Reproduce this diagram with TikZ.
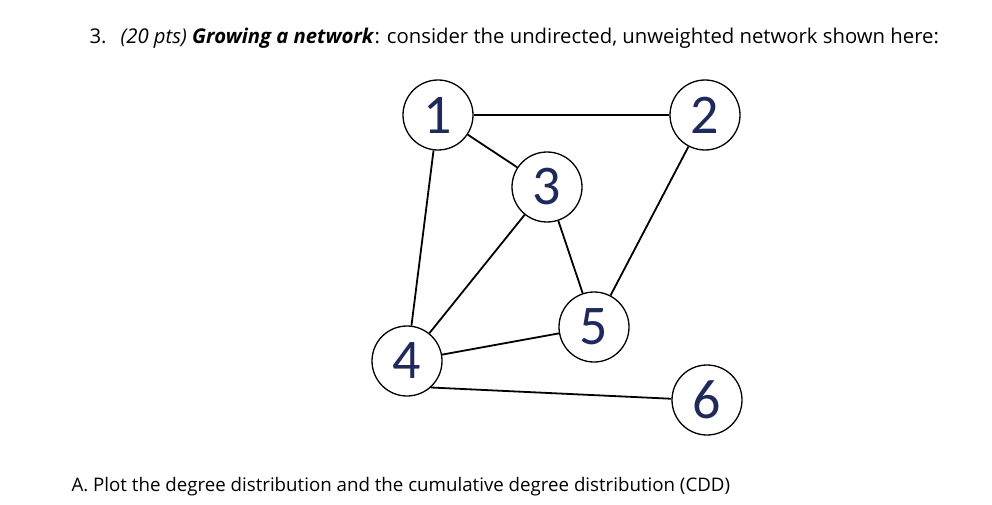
\documentclass[tikz,border=0pt]{standalone}
\usepackage{fontspec}
\setmainfont{Open Sans}
\newfontfamily\digitfont{Carlito}
\definecolor{navy}{HTML}{1F2A5C}
\begin{document}
\begin{tikzpicture}[x=1pt,y=-1pt,
  nd/.style={circle,draw,line width=1.3pt,minimum size=70pt,inner sep=0pt,font=\digitfont\fontsize{56}{56}\selectfont,text=navy},
  ed/.style={line width=1.8pt}]
\useasboundingbox (0,0) rectangle (992,505);
\node[anchor=west,font=\fontsize{20.3}{24}\selectfont] (t) at (86,38) {3.\hspace{14pt}\textit{(20 pts)} \textbf{\textit{Growing a network}}: consider the undirected, unweighted network shown here:};
\node[anchor=west,font=\fontsize{18.7}{22}\selectfont] (b) at (68,487) {A. Plot the degree distribution and the cumulative degree distribution (CDD)};
\node[nd] (n1) at (438,115) {1};
\node[nd] (n2) at (705,115) {2};
\node[nd] (n3) at (547,187) {3};
\node[nd] (n5) at (594,327) {5};
\node[nd] (n4) at (407,361) {4};
\node[nd] (n6) at (707,400) {6};
\draw[ed] (n1)--(n2); \draw[ed] (n1)--(n3); \draw[ed] (n1)--(n4);
\draw[ed] (n3)--(n5); \draw[ed] (n3)--(n4); \draw[ed] (n2)--(n5);
\draw[ed] (n4)--(n5); \draw[ed] (n4.-48)--(n6.178);
\end{tikzpicture}
\end{document}
